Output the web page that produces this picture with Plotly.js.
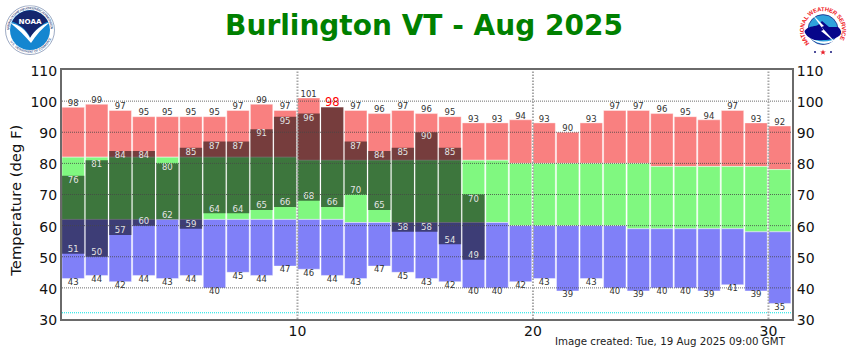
<!DOCTYPE html>
<html>
<head>
<meta charset="utf-8">
<script src="https://cdn.plot.ly/plotly-3.0.1.min.js"></script>
<style>html,body{margin:0;padding:0;background:#fff}#chart{width:850px;height:350px}</style>
</head>
<body>
<div id="chart"></div>
<script>
const days = Array.from({length: 31}, (_, i) => i + 1);
const recordHigh = [98,99,97,95,95,95,95,97,99,97,101,98,97,96,97,96,95,93,93,94,93,90,93,97,97,96,95,94,97,93,92];
const normalHigh = [82,82,82,82,82,82,82,82,82,82,81,81,81,81,81,81,81,81,81,80,80,80,80,80,80,79,79,79,79,79,78];
const normalLow  = [62,62,62,62,62,62,62,62,62,62,62,62,61,61,61,61,61,61,61,60,60,60,60,60,59,59,59,59,59,58,58];
const recordLow  = [43,44,42,44,43,44,40,45,44,47,46,44,43,47,45,43,42,40,40,42,43,39,43,40,39,40,40,39,41,39,35];
const obsHigh = [76,81,84,84,80,85,87,87,91,95,96,98,87,84,85,90,85,70];
const obsLow  = [51,50,57,60,62,59,64,64,65,66,68,66,70,65,58,58,54,49];
const yTicks = [30,40,50,60,70,80,90,100,110];
const xTicks = [10,20,30];
const freezing = 32;
const titleText = 'Burlington VT - Aug 2025';
const yTitle = 'Temperature (deg F)';
const stamp = 'Image created: Tue, 19 Aug 2025 09:00 GMT';

const FONT = 'DejaVu Sans, Verdana, sans-serif';
const L = 62, T = 70, PW = 730, PH = 249.5;
const BARW = 0.95;
const labelX = d => d - 1 + BARW / 2;

function band(y0, y1, color) {
  return {type: 'bar', x: days, base: y0, y: y1.map((v, i) => v - y0[i]), width: BARW, offset: -1,
          marker: {color: color, line: {width: 1, color: 'rgba(255,255,255,0.4)'}}, hoverinfo: 'skip', showlegend: false};
}
function labels(xs, ys, text, color, size) {
  return {type: 'scatter', mode: 'text', x: xs, y: ys, text: text, textposition: 'middle center',
          textfont: {family: FONT, size: size || 8.5, color: color}, hoverinfo: 'skip', showlegend: false, cliponaxis: false};
}

const obsDays = obsHigh.map((_, i) => days[i]);
const traces = [
  band(normalHigh, recordHigh, '#F98080'),
  band(normalLow, normalHigh, '#80F880'),
  band(recordLow, normalLow, '#8080F8'),
  {type: 'bar', x: obsDays, base: obsLow, y: obsHigh.map((v, i) => v - obsLow[i]), width: BARW, offset: -1,
   marker: {color: 'rgba(0,0,0,0.525)', line: {width: 0}}, hoverinfo: 'skip', showlegend: false},
  {type: 'scatter', mode: 'lines', x: [0, 31], y: [freezing, freezing], yaxis: 'y2',
   line: {color: '#00E0E0', width: 1, dash: '1px,1px'}, hoverinfo: 'skip', showlegend: false},
  labels(days.map(labelX), recordHigh.map((v, i) => v + (obsHigh[i] === v ? 1.5 : 1.1)), recordHigh.map(String),
         recordHigh.map((v, i) => obsHigh[i] === v ? '#FF0000' : '#333333'),
         recordHigh.map((v, i) => obsHigh[i] === v ? 11.5 : 8.5)),
  labels(obsDays.map(labelX), obsHigh.map(v => v - 1.6), obsHigh.map((v, i) => v === recordHigh[i] ? '' : String(v)), '#E4E4E4'),
  labels(obsDays.map(labelX), obsLow.map(v => v + 1.2), obsLow.map(String), '#E4E4E4'),
  labels(days.map(labelX), recordLow.map(v => v - 1.35), recordLow.map(String), '#333333')
];

const gridShapes = yTicks.filter(v => v > 30 && v < 110).map(v => ({
  type: 'line', xref: 'x', yref: 'y', x0: 0, x1: 31, y0: v, y1: v, layer: 'above',
  line: {color: 'rgba(70,70,70,0.8)', width: 1, dash: '1px,1px'}
})).concat(xTicks.map(v => ({
  type: 'line', xref: 'x', yref: 'y', x0: v, x1: v, y0: 30, y1: 110, layer: 'above',
  line: {color: '#A8A8A8', width: 2, dash: '1.5px,1.5px'}
})));

function svgUri(s) { return 'data:image/svg+xml;charset=utf-8,' + encodeURIComponent(s); }
const noaaSvg = `<svg xmlns="http://www.w3.org/2000/svg" viewBox="0 0 50 50" width="200" height="200">
<circle cx="25" cy="25" r="24.5" fill="#fff" stroke="#0a2a6b" stroke-width=".4"/>
<defs><path id="a" d="M4.2 25a20.8 20.8 0 0 1 41.6 0"/><path id="b" d="M2.2 25a22.8 22.8 0 0 0 45.6 0"/></defs>
<text font-family="DejaVu Sans" font-size="3" fill="#0a2a6b"><textPath href="#a" textLength="64">NATIONAL OCEANIC AND ATMOSPHERIC ADMINISTRATION</textPath></text>
<text font-family="DejaVu Sans" font-size="3" fill="#0a2a6b"><textPath href="#b" startOffset="12">U.S. DEPARTMENT OF COMMERCE</textPath></text>
<circle cx="25" cy="25" r="20" fill="#1486d0"/>
<path d="M7 16.5A20 20 0 0 1 43 16.5C37 19 31 24 25.5 32.5C21 24 14 19 7 16.5Z" fill="#14266e"/>
<path d="M5.5 18C14 19.5 21 25 25 33C30 25 36 20 44.5 17.5C37.5 23 31 30 26 38C20 31 13 24 5.5 18Z" fill="#fff"/>
<text x="25" y="18.5" text-anchor="middle" font-family="DejaVu Sans" font-weight="bold" font-size="7.2" fill="#fff">NOAA</text>
</svg>`;
const nwsSvg = `<svg xmlns="http://www.w3.org/2000/svg" viewBox="0 0 50 50" width="200" height="200">
<defs><path id="c" d="M11.56 38.44A19 19 0 1 1 38.44 38.44"/></defs>
<text font-family="Liberation Sans" font-weight="bold" font-size="5.9" letter-spacing="-.2" fill="#f01824"><textPath href="#c">NATIONAL WEATHER SERVICE</textPath></text>
<circle cx="25" cy="24.5" r="15" fill="#2ea3dc" stroke="#14147a" stroke-width=".7"/>
<path d="M6.5 26C10 21 15 22 20 20L24 16L31 22L40 22C44 25 44 29 41 31C34 36 24 35 16 35C11 33 7 30 6.5 26Z" fill="#06068a"/>
<path d="M12 33C20 40 32 41 39 33C33 37 20 38 12 33Z" fill="#fff"/>
<path d="M14 9L26 21L23.5 22L38 38L23 26L25.5 25L14 9Z" fill="#fff"/>
<circle cx="17" cy="47" r="1" fill="#14147a"/><circle cx="33" cy="47" r="1" fill="#14147a"/><path d="M25 44.5l.8 2h2l-1.6 1.2.6 2-1.8-1.2-1.8 1.2.6-2-1.6-1.2h2z" fill="#e8202a"/>
</svg>`;
const pxImage = (src, x, y, size) => ({
  source: src, xref: 'paper', yref: 'paper', x: (x - L) / PW, y: (T + PH - y) / PH,
  sizex: size / PW, sizey: size / PH, xanchor: 'left', yanchor: 'top', sizing: 'stretch', layer: 'above'
});

const axisBase = {
  showline: true, linecolor: '#6A6A6A', linewidth: 2, zeroline: false, showgrid: false, fixedrange: true,
  ticks: '', tickfont: {family: FONT, size: 14, color: '#111111'}
};

const layout = {
  width: 850, height: 350, autosize: false,
  margin: {l: L, r: 850 - L - PW, t: T, b: 350 - T - PH, pad: 0},
  paper_bgcolor: '#fff', plot_bgcolor: '#fff',
  barmode: 'overlay', showlegend: false,
  title: {text: titleText, font: {family: FONT, size: 28, color: '#008000', weight: 'bold'},
          x: 424 / 850, xanchor: 'center', y: 1 - 25 / 350, yanchor: 'middle'},
  xaxis: Object.assign({}, axisBase, {range: [0, 31], tickmode: 'array', tickvals: xTicks, ticktext: xTicks.map(String), mirror: true, ticklabelstandoff: -2}),
  yaxis: Object.assign({}, axisBase, {range: [30, 110], tickmode: 'array', tickvals: yTicks, ticktext: yTicks.map(String), ticklabelshift: 1}),
  yaxis2: Object.assign({}, axisBase, {range: [30, 110], overlaying: 'y', side: 'right', tickmode: 'array', tickvals: yTicks, ticktext: yTicks.map(String), ticklabelshift: 1}),
  shapes: gridShapes,
  images: [pxImage(svgUri(noaaSvg), 5, 5, 50), pxImage(svgUri(nwsSvg), 798, 5, 50)],
  annotations: [
    {text: stamp, xref: 'paper', yref: 'paper', x: (788 - L) / PW, xanchor: 'right',
     y: (T + PH - 342) / PH, yanchor: 'middle', showarrow: false,
     font: {family: FONT, size: 10.25, color: '#222222'}},
    {text: yTitle, xref: 'paper', yref: 'paper', x: (16 - L) / PW, xanchor: 'center',
     y: (T + PH - 201) / PH, yanchor: 'middle', textangle: -90, showarrow: false,
     font: {family: FONT, size: 14.8, color: '#111111'}}
  ]
};

Plotly.newPlot('chart', traces, layout, {displayModeBar: false, staticPlot: true});
</script>
</body>
</html>
